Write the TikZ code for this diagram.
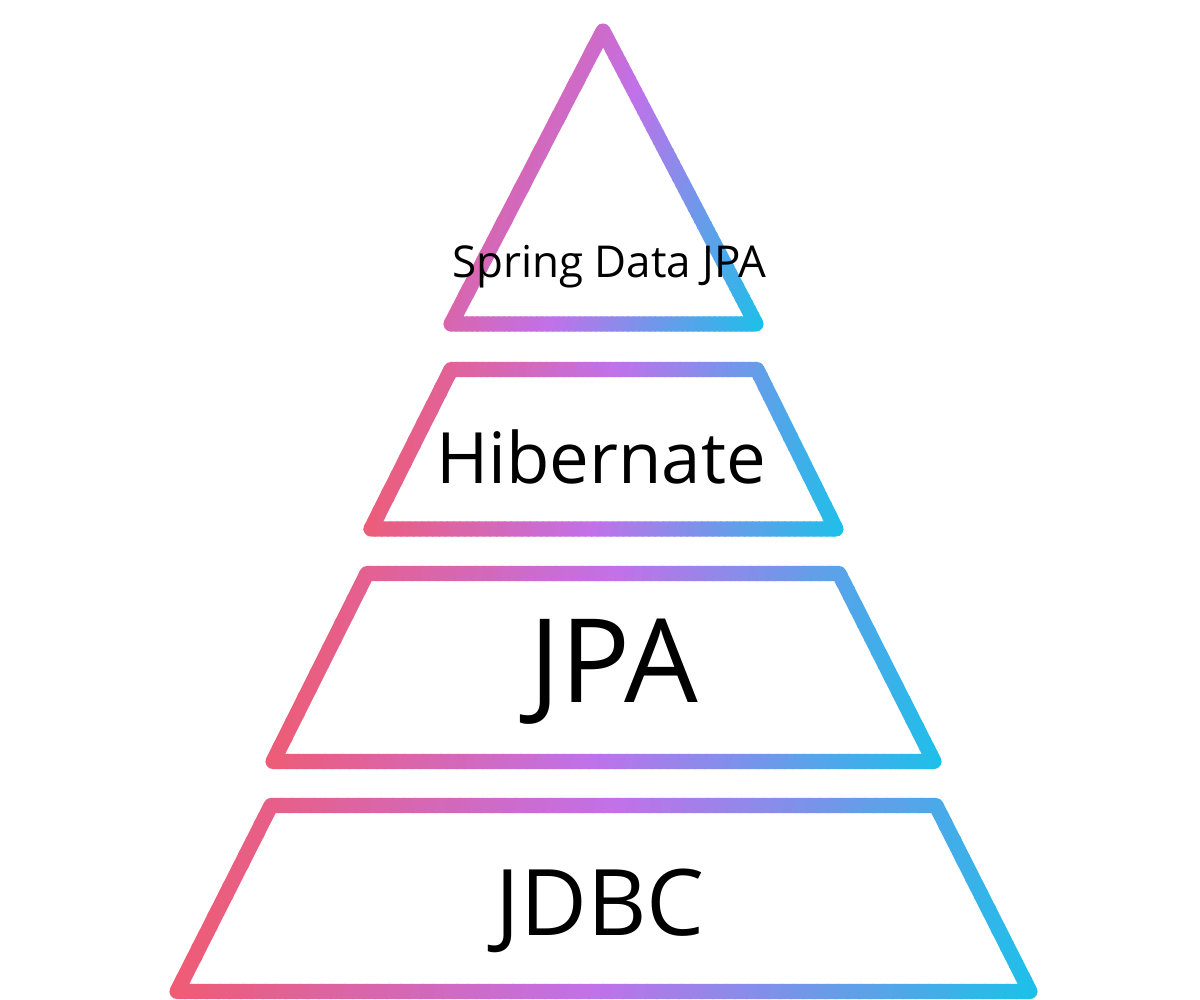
\documentclass[tikz,border=0pt]{standalone}
\usepackage{fontspec}
\setmainfont{Open Sans}
\definecolor{gred}{HTML}{F25A6C}
\definecolor{gpurple}{HTML}{C171EA}
\definecolor{gcyan}{HTML}{1AC1E9}
\tikzset{
  gstroke/.style={line width=8.6pt, line join=round, line cap=round},
  lbl/.style={anchor=base, inner sep=0pt, text=black}
}
% #1 path, #2 gradient angle (downwards), #3..#6 bbox xmin ymin xmax ymax
\newcommand{\gradstroke}[6]{%
  \pgfmathsetmacro\gc{cos(#2)}%
  \pgfmathsetmacro\gs{sin(#2)}%
  \pgfmathsetmacro\pa{#3*\gc+#4*\gs}%
  \pgfmathsetmacro\pb{#5*\gc+#6*\gs}%
  \pgfmathsetmacro\pstep{(\pb-\pa)/80}%
  \foreach \i in {0,...,79}{%
    \pgfmathsetmacro\lo{\pa+\pstep*\i-0.6}%
    \pgfmathsetmacro\hi{\pa+\pstep*(\i+1)+0.6}%
    \ifnum\i<40
      \pgfmathtruncatemacro\pct{(\i+0.5)*2.5}%
      \colorlet{segc}{gpurple!\pct!gred}%
    \else
      \pgfmathtruncatemacro\pct{(\i-40+0.5)*2.5}%
      \colorlet{segc}{gcyan!\pct!gpurple}%
    \fi
    \begin{scope}
      \clip ({\lo*\gc+1500*\gs},{\lo*\gs-1500*\gc}) -- ({\hi*\gc+1500*\gs},{\hi*\gs-1500*\gc})
         -- ({\hi*\gc-1500*\gs},{\hi*\gs+1500*\gc}) -- ({\lo*\gc-1500*\gs},{\lo*\gs+1500*\gc}) -- cycle;
      \draw[gstroke, draw=segc] #1;
    \end{scope}
  }%
}
\begin{document}
\begin{tikzpicture}[x=0.02cm, y=-0.02cm]
  \useasboundingbox (0,0) rectangle (1200,1000);
  \fill[white] (0,0) rectangle (1200,1000);

  % Spring Data JPA triangle
  \gradstroke{(603,31) -- (756,324) -- (451,324) -- cycle}{20}{444}{24}{763}{331}
  % Hibernate
  \gradstroke{(451,369.5) -- (757,369.5) -- (836,529) -- (371,529) -- cycle}{8}{362}{362}{846}{537}
  % JPA
  \gradstroke{(367,573.5) -- (839,573.5) -- (934,761.5) -- (273,761.5) -- cycle}{8}{263}{566}{944}{769}
  % JDBC
  \gradstroke{(271,805.5) -- (936,805.5) -- (1030,991.5) -- (177,991.5) -- cycle}{8}{168}{798}{1039}{999}

  \node[lbl, font=\fontsize{25}{28}\selectfont] (spring) at (609.5,277) {Spring Data JPA};
  \node[lbl, font=\fontsize{40.3}{44}\selectfont] (hib) at (601,483.3) {Hibernate};
  \node[lbl, font=\fontsize{66.3}{70}\selectfont] (jpa) at (614,702.3) {JPA};
  \node[lbl, font=\fontsize{52.3}{58}\selectfont] (jdbc) at (600,935) {JDBC};
\end{tikzpicture}
\end{document}
